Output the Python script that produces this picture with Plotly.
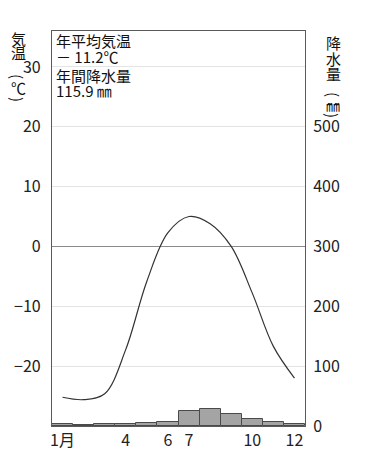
import plotly.graph_objects as go

months = list(range(1, 13))
temperature = [-25.2, -25.6, -24.6, -17.2, -5.8, 2.3, 5.0, 3.8, 0.0, -7.8, -16.7, -22.0]
precipitation = [2.6, 2.2, 2.6, 3.6, 4.6, 7.2, 25.2, 27.6, 20.0, 11.0, 6.0, 3.3]
x_tick_vals = [1, 4, 6, 7, 10, 12]
x_tick_text = ["1月", "4", "6", "7", "10", "12"]
t_tick_vals = [-20, -10, 0, 10, 20, 30]
p_tick_vals = [0, 100, 200, 300, 400, 500]

FONT = "Noto Sans CJK JP"
W, H = 375, 450
L, R, T, B = 52, 70, 31, 24
PW, PH = W - L - R, H - T - B


def px(x):
    return (x - L) / PW


def py(y):
    return (H - B - y) / PH


fig = go.Figure()
fig.add_trace(go.Bar(
    x=months, y=precipitation, yaxis="y2", width=1,
    marker=dict(color="#a4a4a4", line=dict(color="#4a4a4a", width=1)),
    showlegend=False, hoverinfo="skip"))
fig.add_trace(go.Scatter(
    x=months, y=temperature, mode="lines", yaxis="y",
    line=dict(shape="spline", smoothing=1, color="#333333", width=1.2),
    showlegend=False))

axis_line = "#5a5a5a"
fig.update_layout(
    width=W, height=H,
    margin=dict(l=L, r=R, t=T, b=B, pad=0, autoexpand=False),
    paper_bgcolor="white", plot_bgcolor="white",
    font=dict(family=FONT, size=16, color="#222222"),
    bargap=0,
    xaxis=dict(range=[0.5, 12.5], tickvals=x_tick_vals, ticktext=x_tick_text,
               showgrid=False, zeroline=False, showline=True, mirror=True,
               linecolor=axis_line, linewidth=1.2, ticks="",
               tickfont=dict(size=16), automargin=False),
    yaxis=dict(range=[-30, 36], tickvals=t_tick_vals, showgrid=True,
               gridcolor="#e4e4e4", gridwidth=1, zeroline=True,
               zerolinecolor="#8a8a8a", zerolinewidth=1,
               showline=True, mirror=True, linecolor=axis_line, linewidth=1.2,
               ticks="outside", ticklen=7, tickcolor="rgba(0,0,0,0)",
               tickfont=dict(size=16), automargin=False),
    yaxis2=dict(range=[0, 660], tickvals=p_tick_vals, overlaying="y",
                side="right", showgrid=False, zeroline=False, showline=False,
                ticks="outside", ticklen=4, tickcolor="rgba(0,0,0,0)",
                tickfont=dict(size=16), automargin=False),
)

annotations = []


def add_text(text, x, y, size=15, anchor="center", angle=0):
    annotations.append(dict(text=text, x=px(x), y=py(y), xref="paper", yref="paper",
                            xanchor=anchor, yanchor="middle", showarrow=False,
                            textangle=angle, borderpad=0,
                            font=dict(size=size, family=FONT, color="#111111")))


# info block
for text, yy in [("年平均気温", 40.5), ("－ 11.2℃", 56.5), ("年間降水量", 75), ("115.9 ㎜", 90.5)]:
    add_text(text, 55, yy, anchor="left")

# left axis title (vertical)
add_text("気", 18, 38.5)
add_text("温", 18, 52.5)
add_text("(", 18, 76, angle=90)
add_text("℃", 18, 87)
add_text(")", 18, 99, angle=90)

# right axis title (vertical)
add_text("降", 333, 42)
add_text("水", 333, 58)
add_text("量", 333, 73.5)
add_text("(", 333, 94, angle=90)
add_text("㎜", 333, 104.5, size=14)
add_text(")", 333, 115, angle=90)

fig.update_layout(annotations=annotations)

fig.write_html("out.html")
